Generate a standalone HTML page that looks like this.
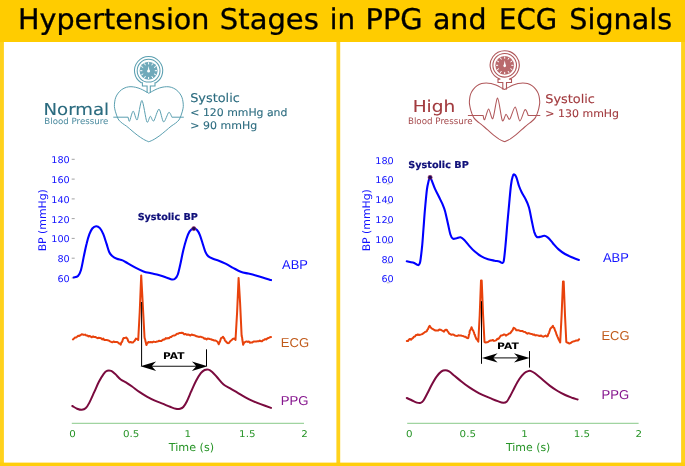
<!DOCTYPE html>
<html><head><meta charset="utf-8"><title>Hypertension Stages in PPG and ECG Signals</title>
<style>
html,body{margin:0;padding:0;background:#ffcc00;}
body{width:685px;height:466px;overflow:hidden;}
svg{display:block;}
text{font-family:"DejaVu Sans","Liberation Sans",sans-serif;text-rendering:geometricPrecision;}
.dj{font-family:"DejaVu Sans","Liberation Sans",sans-serif;}
.ar{font-family:"Liberation Sans",sans-serif;}
.b{font-weight:bold;}
</style></head><body>
<svg width="685" height="466" viewBox="0 0 685 466">
<rect x="0" y="0" width="685" height="466" fill="#ffcc00"/>
<rect x="0" y="42" width="685" height="424" fill="#ffd21c"/>
<rect x="0" y="462.6" width="685" height="3.4" fill="#ffce0c"/>
<rect x="3.9" y="42" width="332.5" height="420.6" fill="#fff"/>
<rect x="340.2" y="42" width="340.9" height="420.6" fill="#fff"/>
<g id="iconL">
<path d="M141.20,82.70 A14.10,14.10 0 1 1 156.00,82.70 L155.0,82.7 L155.0,86.0 L150.3,86.0 L150.3,93.0 M141.20,82.70 L142.4,82.7 L142.4,86.0 L147.1,86.0 L147.1,93.0" fill="none" stroke="#5a9fb0" stroke-width="1.05" stroke-linejoin="miter"/>
<circle cx="148.6" cy="70.7" r="11.40" fill="none" stroke="#5a9fb0" stroke-width="1.05"/>
<circle cx="148.6" cy="70.7" r="9.05" fill="#6fa9ba"/>
<path d="M148.60,64.45 L148.60,62.25 M151.72,65.29 L152.82,63.38 M154.01,67.58 L155.92,66.47 M154.85,70.70 L157.05,70.70 M154.01,73.83 L155.92,74.92 M151.72,76.11 L152.82,78.02 M148.60,76.95 L148.60,79.15 M145.47,76.11 L144.38,78.02 M143.19,73.83 L141.28,74.93 M142.35,70.70 L140.15,70.70 M143.19,67.58 L141.28,66.47 M145.47,65.29 L144.38,63.38" stroke="#fff" stroke-width="1.0" fill="none"/>
<path d="M148.60,65.95 L149.60,71.00 L147.60,71.00 Z" fill="#fff"/>
<circle cx="148.6" cy="71.2" r="1.35" fill="#fff"/>
<path d="M148.8,93.3 C148.2,92.9 146.4,91.8 145.0,91.1 C143.6,90.3 142.0,89.4 140.4,88.8 C138.8,88.2 137.3,87.6 135.7,87.3 C134.1,87.0 132.6,86.7 131.0,86.7 C129.4,86.7 128.0,86.8 126.4,87.3 C124.9,87.8 123.1,88.6 121.7,89.6 C120.3,90.6 119.2,91.8 118.2,93.1 C117.2,94.4 116.4,95.7 115.8,97.2 C115.2,98.7 114.9,100.4 114.7,101.9 C114.5,103.5 114.3,105.0 114.4,106.5 C114.5,108.0 114.9,109.6 115.3,111.2 C115.7,112.8 116.2,114.4 116.8,115.9 C117.4,117.4 117.9,118.8 118.8,120.0 C119.7,121.2 121.0,122.2 122.3,123.3 C123.6,124.3 125.1,125.0 126.7,126.3 C128.3,127.5 130.2,129.3 132.0,130.8 C133.8,132.3 135.9,134.1 137.8,135.5 C139.7,136.9 141.7,138.2 143.5,139.3 C145.3,140.4 148.0,141.4 148.8,141.8 M148.8,93.3 C149.5,92.9 151.3,91.8 152.7,91.1 C154.1,90.3 155.7,89.4 157.3,88.8 C158.8,88.2 160.4,87.6 162.0,87.3 C163.6,87.0 165.1,86.7 166.7,86.7 C168.2,86.7 169.7,86.8 171.3,87.3 C172.8,87.8 174.6,88.6 176.0,89.6 C177.4,90.6 178.5,91.8 179.5,93.1 C180.5,94.4 181.3,95.7 181.9,97.2 C182.5,98.7 182.8,100.4 183.0,101.9 C183.2,103.5 183.4,105.0 183.3,106.5 C183.2,108.0 182.8,109.6 182.4,111.2 C182.0,112.8 181.5,114.4 180.9,115.9 C180.3,117.4 179.8,118.8 178.9,120.0 C178.0,121.2 176.7,122.2 175.4,123.3 C174.1,124.3 172.6,125.0 171.0,126.3 C169.4,127.5 167.5,129.3 165.7,130.8 C163.8,132.3 161.8,134.1 159.9,135.5 C158.0,136.9 156.0,138.2 154.2,139.3 C152.4,140.4 149.7,141.4 148.8,141.8" fill="none" stroke="#5a9fb0" stroke-width="1.0"/>
<path d="M113.3,117.2 L128.1,117.2 C128.3,117.8 128.8,122.1 129.5,121.2 C130.2,120.3 132.1,111.3 133.2,111.1 C134.3,110.9 136.0,121.3 137.2,119.8 C138.4,118.3 140.5,100.2 141.9,100.5 C143.3,100.8 145.7,119.7 146.9,121.9 C148.1,124.1 149.3,116.4 150.3,116.3 C151.3,116.2 152.5,122.0 153.7,121.0 C154.9,120.0 157.6,109.0 159.0,109.1 C160.4,109.2 162.2,121.4 163.6,121.9 C165.0,122.4 167.6,113.1 168.8,112.4 C170.0,111.7 171.5,116.5 171.9,117.2 L183.8,117.2" fill="none" stroke="#5a9fb0" stroke-width="1.0" stroke-linejoin="round"/>
</g>
<g id="iconR">
<path d="M500.40,79.20 A14.55,14.55 0 1 1 509.00,79.20 L511.5,79.2 L511.5,82.5 L506.5,82.5 L506.5,89.5 M500.40,79.20 L498.0,79.2 L498.0,82.5 L502.8,82.5 L502.8,89.5" fill="none" stroke="#b0575a" stroke-width="1.1" stroke-linejoin="miter"/>
<circle cx="504.7" cy="65.3" r="11.80" fill="none" stroke="#b0575a" stroke-width="1.1"/>
<circle cx="504.7" cy="65.3" r="9.40" fill="#b96a6d"/>
<path d="M504.70,58.70 L504.70,56.50 M508.00,59.58 L509.10,57.68 M510.42,62.00 L512.32,60.90 M511.30,65.30 L513.50,65.30 M510.42,68.60 L512.32,69.70 M508.00,71.02 L509.10,72.92 M504.70,71.90 L504.70,74.10 M501.40,71.02 L500.30,72.92 M498.98,68.60 L497.08,69.70 M498.10,65.30 L495.90,65.30 M498.98,62.00 L497.08,60.90 M501.40,59.58 L500.30,57.68" stroke="#fff" stroke-width="1.0" fill="none"/>
<path d="M504.70,60.20 L505.70,65.60 L503.70,65.60 Z" fill="#fff"/>
<circle cx="504.7" cy="65.8" r="1.35" fill="#fff"/>
<path d="M504.6,89.6 C503.9,89.3 502.1,88.2 500.6,87.4 C499.2,86.6 497.5,85.7 495.9,85.0 C494.3,84.4 492.7,83.9 491.1,83.5 C489.5,83.2 487.9,82.9 486.3,82.9 C484.8,82.9 483.2,83.0 481.6,83.5 C480.1,84.0 478.2,84.9 476.8,85.9 C475.5,86.8 474.3,88.1 473.3,89.4 C472.3,90.7 471.4,92.1 470.8,93.6 C470.2,95.1 469.9,96.8 469.7,98.4 C469.5,100.0 469.3,101.5 469.4,103.1 C469.5,104.7 469.9,106.5 470.3,108.3 C470.7,110.0 471.3,111.8 471.8,113.4 C472.4,115.0 473.0,116.5 473.9,117.9 C474.8,119.3 476.1,120.4 477.5,121.5 C478.8,122.7 480.3,123.4 481.9,124.8 C483.6,126.2 485.5,128.1 487.4,129.7 C489.2,131.4 491.3,133.3 493.3,134.9 C495.2,136.4 497.2,137.9 499.1,139.1 C501.0,140.2 503.6,141.3 504.6,141.8 M504.6,89.6 C505.2,89.3 507.0,88.2 508.5,87.4 C509.9,86.6 511.6,85.7 513.2,85.0 C514.8,84.4 516.4,83.9 518.0,83.5 C519.6,83.2 521.2,82.9 522.8,82.9 C524.3,82.9 525.9,83.0 527.5,83.5 C529.0,84.0 530.9,84.9 532.3,85.9 C533.6,86.8 534.8,88.1 535.8,89.4 C536.8,90.7 537.7,92.1 538.3,93.6 C538.9,95.1 539.2,96.8 539.4,98.4 C539.6,100.0 539.8,101.5 539.7,103.1 C539.6,104.7 539.2,106.5 538.8,108.3 C538.4,110.0 537.8,111.8 537.3,113.4 C536.7,115.0 536.1,116.5 535.2,117.9 C534.3,119.3 533.0,120.4 531.6,121.5 C530.3,122.7 528.8,123.4 527.2,124.8 C525.5,126.2 523.6,128.1 521.7,129.7 C519.9,131.4 517.8,133.3 515.8,134.9 C513.9,136.4 511.9,137.9 510.0,139.1 C508.1,140.2 505.5,141.3 504.6,141.8" fill="none" stroke="#b0575a" stroke-width="1.05"/>
<path d="M467.9,115.4 L483.1,115.4 C483.3,116.0 483.8,120.6 484.6,119.7 C485.4,118.8 487.5,109.1 488.6,108.9 C489.7,108.7 491.5,120.1 492.8,118.6 C494.1,117.1 496.3,97.7 497.6,98.0 C498.9,98.3 501.1,118.2 502.3,120.5 C503.5,122.8 505.0,114.5 506.0,114.3 C507.0,114.1 508.4,120.2 509.7,119.2 C511.0,118.2 513.8,106.6 515.2,106.9 C516.6,107.2 518.4,120.6 519.8,121.0 C521.2,121.4 523.8,110.4 525.0,109.6 C526.2,108.8 527.8,114.6 528.2,115.4 L540.3,115.4" fill="none" stroke="#b0575a" stroke-width="1.05" stroke-linejoin="round"/>
</g>
<path d="M71.7,159.3 h3" stroke="#8a8a8a" stroke-width="0.8"/>
<path d="M386.8,164.1 h2.8" stroke="#a0a0a8" stroke-width="0.8"/>
<path d="M71.7,179.1 h3" stroke="#8a8a8a" stroke-width="0.8"/>
<path d="M386.8,183.9 h2.8" stroke="#a0a0a8" stroke-width="0.8"/>
<path d="M71.7,198.9 h3" stroke="#8a8a8a" stroke-width="0.8"/>
<path d="M386.8,203.7 h2.8" stroke="#a0a0a8" stroke-width="0.8"/>
<path d="M71.7,218.6 h3" stroke="#8a8a8a" stroke-width="0.8"/>
<path d="M386.8,223.4 h2.8" stroke="#a0a0a8" stroke-width="0.8"/>
<path d="M71.7,238.4 h3" stroke="#8a8a8a" stroke-width="0.8"/>
<path d="M386.8,243.2 h2.8" stroke="#a0a0a8" stroke-width="0.8"/>
<path d="M71.7,258.2 h3" stroke="#8a8a8a" stroke-width="0.8"/>
<path d="M386.8,263.0 h2.8" stroke="#a0a0a8" stroke-width="0.8"/>
<path d="M71.7,278.0 h3" stroke="#8a8a8a" stroke-width="0.8"/>
<path d="M386.8,282.8 h2.8" stroke="#a0a0a8" stroke-width="0.8"/>
<path d="M73.7,277.4 C74.4,277.1 76.8,277.1 78.0,275.9 C79.2,274.7 80.0,273.4 80.9,270.2 C81.9,267.0 82.8,261.3 83.7,256.9 C84.7,252.5 85.6,247.5 86.6,243.7 C87.5,239.9 88.5,236.7 89.4,234.2 C90.4,231.7 91.2,229.8 92.3,228.5 C93.4,227.2 94.8,226.3 96.1,226.2 C97.4,226.1 98.7,226.8 99.9,228.1 C101.1,229.4 102.2,231.6 103.3,234.2 C104.4,236.8 105.5,240.7 106.5,243.7 C107.5,246.7 108.3,250.1 109.3,252.2 C110.2,254.2 110.9,254.9 112.2,256.0 C113.5,257.1 115.2,258.1 116.9,258.8 C118.6,259.5 120.7,259.6 122.6,260.4 C124.5,261.2 126.1,262.4 128.3,263.6 C130.5,264.9 133.4,266.6 135.9,267.9 C138.4,269.2 141.0,270.5 143.5,271.4 C146.0,272.3 148.6,272.7 151.1,273.3 C153.6,273.9 156.2,274.3 158.7,275.0 C161.2,275.7 164.1,276.6 166.3,277.4 C168.5,278.1 170.6,279.3 172.0,279.5 C173.4,279.7 174.0,279.6 175.0,278.8 C176.0,278.0 176.9,277.1 177.8,274.5 C178.7,271.9 179.6,267.6 180.5,263.5 C181.4,259.4 182.3,254.3 183.3,250.2 C184.3,246.1 185.4,242.2 186.4,239.0 C187.4,235.8 188.4,233.1 189.6,231.3 C190.8,229.6 192.6,228.7 193.8,228.5 C195.0,228.3 196.0,228.9 197.0,230.0 C198.0,231.1 199.0,232.8 199.9,235.1 C200.8,237.4 201.8,240.8 202.7,243.7 C203.6,246.5 204.6,250.1 205.5,252.2 C206.4,254.3 207.1,255.3 208.4,256.4 C209.7,257.5 211.4,258.1 213.1,258.8 C214.8,259.5 216.7,259.9 218.8,260.7 C220.9,261.5 223.1,262.4 225.5,263.6 C227.9,264.8 230.6,266.5 233.1,267.9 C235.6,269.2 238.2,270.8 240.7,271.7 C243.2,272.6 245.8,273.0 248.3,273.6 C250.8,274.2 253.3,274.8 255.8,275.5 C258.3,276.2 260.9,277.0 263.4,277.8 C265.9,278.6 269.7,279.7 271.0,280.1" fill="none" stroke="#0000ff" stroke-width="2.1" stroke-linecap="round" stroke-linejoin="round"/>
<path d="M72.9,339.4 L74.0,338.5 L75.0,337.6 L76.0,337.6 L77.1,336.7 L78.2,335.7 L79.4,335.9 L80.5,335.2 L81.7,334.3 L82.8,334.5 L83.9,334.9 L85.1,334.6 L86.2,335.5 L87.4,335.4 L88.5,336.4 L89.6,336.0 L90.8,336.6 L91.9,337.3 L93.1,336.4 L94.2,337.1 L95.3,336.9 L96.5,337.6 L97.6,338.2 L98.8,337.8 L99.9,337.9 L101.0,338.2 L102.1,339.4 L103.3,338.5 L104.4,340.1 L105.5,340.0 L106.6,340.1 L107.8,340.3 L108.9,340.6 L110.1,341.3 L111.2,341.9 L112.3,342.3 L113.5,341.5 L114.6,342.0 L115.8,342.1 L116.9,341.9 L117.9,342.4 L118.8,343.4 L119.8,343.4 L120.7,344.7 L121.2,343.0 L121.7,342.1 L122.2,341.7 L122.6,340.2 L123.1,338.9 L123.6,338.1 L125.0,337.9 L126.4,337.5 L127.0,338.4 L127.6,339.2 L128.1,340.9 L128.7,341.7 L129.3,342.4 L130.6,342.0 L131.8,342.5 L133.1,342.4 L133.8,341.5 L134.5,341.0 L135.2,339.9 L135.9,338.6 L137.1,339.0 L138.2,340.0 L139.7,312.4 L141.2,275.4 L142.7,303.0 L144.5,337.1 L144.8,338.9 L145.0,338.9 L145.3,340.4 L145.6,342.0 L145.9,342.3 L146.1,343.9 L146.4,345.1 L147.0,343.4 L147.7,343.2 L148.3,341.9 L149.6,342.3 L150.9,342.0 L152.3,342.4 L153.6,341.6 L154.9,341.9 L156.0,341.9 L157.1,341.5 L158.2,341.2 L159.2,340.8 L160.3,341.0 L161.4,340.9 L162.5,340.0 L163.6,339.5 L164.7,339.4 L165.8,338.1 L166.8,338.6 L167.9,338.1 L169.0,338.2 L170.1,337.1 L171.2,337.1 L172.4,335.9 L173.5,335.6 L174.7,335.5 L175.8,334.8 L177.0,333.7 L178.2,333.8 L179.3,332.9 L180.5,332.9 L181.7,332.7 L182.9,333.0 L184.2,334.4 L185.4,333.9 L186.6,334.8 L187.9,334.5 L189.1,334.8 L190.4,335.5 L191.7,334.5 L192.9,335.1 L194.2,335.2 L195.3,335.6 L196.5,336.3 L197.6,336.5 L198.8,336.9 L199.9,336.7 L201.0,336.8 L202.1,337.3 L203.3,337.6 L204.4,338.8 L205.5,338.6 L206.6,339.4 L207.7,338.5 L208.8,338.7 L209.8,339.0 L210.9,339.2 L212.0,339.8 L213.1,340.0 L214.4,340.6 L215.6,340.5 L216.9,341.3 L217.5,341.6 L218.2,343.2 L218.8,344.3 L219.2,343.1 L219.6,342.3 L219.9,341.8 L220.3,340.4 L220.7,339.2 L221.1,338.1 L222.1,337.6 L223.0,336.7 L223.6,338.0 L224.2,338.2 L224.9,340.4 L225.5,340.9 L226.4,342.1 L227.4,343.0 L228.3,343.2 L229.2,342.8 L230.0,341.4 L230.8,340.7 L231.7,340.0 L233.1,338.7 L234.4,338.6 L235.5,340.0 L237.1,312.4 L238.6,277.9 L240.1,303.0 L241.6,335.2 L241.8,336.6 L242.0,337.0 L242.2,338.2 L242.3,339.5 L242.5,340.7 L242.7,342.1 L242.9,342.9 L243.1,344.7 L243.9,343.1 L244.6,342.3 L245.4,341.9 L246.5,341.4 L247.7,341.9 L248.8,341.5 L250.0,342.8 L251.1,342.4 L252.4,342.4 L253.6,341.5 L254.9,341.5 L256.2,341.5 L257.4,341.3 L258.7,341.3 L259.8,340.5 L260.9,341.2 L262.0,341.2 L263.0,340.2 L264.1,339.9 L265.2,339.1 L266.3,339.4 L267.5,338.3 L268.6,338.0 L269.8,337.3 L271.0,337.1" fill="none" stroke="#e8420c" stroke-width="2.0" stroke-linecap="round" stroke-linejoin="round"/>
<path d="M72.3,406.0 C73.1,406.4 75.5,408.1 77.1,408.7 C78.7,409.3 80.4,409.9 81.8,409.8 C83.2,409.7 84.3,409.5 85.6,408.3 C86.9,407.1 88.0,405.3 89.4,402.6 C90.8,399.9 92.6,395.7 94.2,392.2 C95.8,388.7 97.3,384.9 98.9,381.8 C100.5,378.7 102.3,375.7 103.7,373.8 C105.1,371.9 106.2,371.2 107.4,370.7 C108.7,370.2 109.9,370.4 111.2,370.9 C112.5,371.4 113.4,372.4 115.0,373.8 C116.6,375.2 118.8,378.0 120.7,379.5 C122.6,381.0 124.5,381.5 126.4,382.7 C128.3,383.9 129.9,384.9 132.1,386.5 C134.3,388.1 137.2,390.5 139.7,392.2 C142.2,393.9 144.8,395.5 147.3,396.9 C149.8,398.3 152.4,399.6 154.9,400.7 C157.4,401.8 160.0,402.6 162.5,403.6 C165.0,404.6 167.9,406.0 170.1,406.8 C172.3,407.6 174.2,408.4 175.8,408.7 C177.5,409.0 178.8,409.0 180.0,408.7 C181.2,408.4 182.2,408.2 183.3,407.0 C184.4,405.8 185.5,404.1 186.8,401.5 C188.1,398.9 189.8,394.6 191.3,391.2 C192.9,387.8 194.5,383.8 196.1,380.8 C197.7,377.8 199.4,375.0 200.8,373.2 C202.2,371.4 203.3,370.6 204.6,370.0 C205.9,369.4 207.1,369.3 208.4,369.6 C209.7,369.9 210.8,370.7 212.2,371.9 C213.6,373.1 215.0,374.9 216.9,377.0 C218.8,379.1 221.4,382.7 223.6,384.6 C225.8,386.5 227.8,387.0 230.2,388.4 C232.6,389.8 235.3,391.3 237.8,392.8 C240.3,394.3 242.9,395.9 245.4,397.3 C247.9,398.7 250.5,400.0 253.0,401.1 C255.5,402.2 257.6,403.0 260.6,404.1 C263.6,405.2 269.3,407.3 271.0,407.9" fill="none" stroke="#7a0a3e" stroke-width="2.0" stroke-linecap="round" stroke-linejoin="round"/>
<path d="M406.8,261.3 C407.8,261.5 411.3,262.1 413.0,262.6 C414.7,263.1 415.9,264.1 416.8,264.5 C417.8,264.9 418.1,265.4 418.7,264.9 C419.3,264.4 419.6,264.6 420.2,261.7 C420.8,258.8 421.4,252.9 422.0,247.4 C422.6,241.9 423.0,234.9 423.5,228.5 C424.0,222.1 424.4,215.5 425.0,209.0 C425.6,202.5 426.3,194.5 426.9,189.7 C427.5,184.9 428.3,182.3 428.8,180.2 C429.3,178.1 429.6,177.2 430.1,177.3 C430.6,177.5 431.2,179.2 432.0,181.1 C432.8,183.0 433.8,186.2 434.9,188.7 C436.0,191.2 437.4,193.8 438.7,196.3 C439.9,198.8 441.3,201.5 442.4,203.9 C443.4,206.3 444.1,207.7 445.0,211.0 C445.9,214.3 447.0,219.6 447.9,223.5 C448.8,227.4 449.6,232.0 450.4,234.5 C451.2,237.0 451.8,238.1 452.9,238.7 C453.9,239.3 455.4,238.4 456.7,238.2 C458.0,238.0 459.2,237.0 460.5,237.3 C461.8,237.6 462.9,238.6 464.3,240.0 C465.7,241.4 467.3,243.7 469.0,245.6 C470.7,247.5 472.4,249.5 474.5,251.3 C476.6,253.1 479.1,255.1 481.4,256.4 C483.6,257.7 485.8,258.5 488.0,259.2 C490.2,259.9 492.7,260.3 494.6,260.7 C496.5,261.1 497.9,261.1 499.2,261.5 C500.5,261.9 501.4,263.1 502.2,263.0 C503.0,262.9 503.3,263.6 503.8,260.8 C504.3,258.1 504.8,252.6 505.4,246.5 C506.0,240.4 506.7,231.2 507.3,224.0 C507.9,216.8 508.6,209.9 509.2,203.4 C509.8,196.9 510.4,189.6 511.0,185.0 C511.6,180.4 512.2,177.8 512.8,176.0 C513.3,174.2 513.7,174.3 514.3,174.5 C514.9,174.7 515.6,175.4 516.4,177.3 C517.2,179.2 518.1,183.5 519.0,186.0 C519.9,188.5 520.8,190.4 521.8,192.5 C522.8,194.6 524.1,196.2 525.3,198.6 C526.5,201.0 527.8,203.5 528.9,207.2 C530.0,210.8 530.8,216.4 531.7,220.5 C532.6,224.6 533.4,229.1 534.2,231.8 C535.1,234.5 535.8,236.1 536.8,236.9 C537.8,237.8 538.7,237.1 540.0,236.9 C541.3,236.7 543.1,235.6 544.5,235.8 C545.9,236.0 546.9,236.7 548.3,237.9 C549.7,239.1 551.2,241.3 552.9,243.2 C554.6,245.1 556.6,247.6 558.6,249.4 C560.6,251.2 562.8,252.7 565.0,254.0 C567.2,255.3 569.6,256.3 571.9,257.3 C574.2,258.3 577.7,259.6 578.9,260.0" fill="none" stroke="#0000ff" stroke-width="2.1" stroke-linecap="round" stroke-linejoin="round"/>
<path d="M406.8,341.1 L407.9,341.1 L408.9,339.6 L410.0,338.9 L411.0,339.7 L412.1,338.6 L413.1,337.9 L414.0,336.7 L415.0,336.6 L415.9,335.1 L416.9,335.1 L417.8,334.4 L419.0,335.0 L420.1,334.7 L421.3,334.4 L422.5,334.0 L423.4,333.1 L424.4,332.6 L425.4,331.7 L426.3,331.6 L426.9,331.0 L427.4,329.7 L428.0,329.1 L428.6,327.6 L429.1,326.5 L429.7,325.9 L430.5,327.1 L431.4,328.2 L432.2,328.8 L433.0,329.1 L434.3,330.0 L435.5,330.5 L436.8,330.6 L438.0,330.6 L439.3,329.6 L440.5,329.7 L441.7,330.4 L442.8,330.8 L444.0,331.6 L445.1,330.0 L446.2,329.7 L446.9,330.0 L447.6,331.3 L448.4,332.2 L449.1,333.5 L450.3,334.1 L451.5,334.8 L452.6,334.4 L453.8,334.8 L454.9,335.6 L456.1,335.8 L457.2,335.9 L458.4,335.3 L459.5,335.6 L460.7,335.5 L461.9,335.8 L463.1,336.0 L464.3,336.7 L465.6,336.8 L466.8,337.9 L468.1,338.2 L468.4,337.7 L468.6,336.5 L468.9,334.9 L469.2,334.1 L469.5,333.2 L469.7,331.1 L470.0,330.6 L470.5,329.7 L471.0,328.9 L471.5,327.2 L472.1,328.7 L472.6,329.8 L473.2,330.6 L473.6,331.7 L474.0,332.4 L474.4,334.4 L474.9,334.8 L475.3,336.6 L475.7,337.3 L476.4,339.0 L477.0,339.3 L477.6,340.4 L478.3,341.6 L479.7,315.4 L481.0,280.6 L481.7,280.6 L483.1,315.4 L484.5,342.0 L485.7,342.6 L486.8,342.3 L488.0,342.0 L489.3,341.0 L490.5,340.5 L491.8,340.5 L493.0,339.9 L494.1,340.9 L495.3,340.6 L496.5,340.1 L497.3,338.8 L498.1,339.0 L498.9,338.4 L499.7,337.2 L500.5,336.0 L501.3,335.4 L502.4,335.3 L503.6,334.6 L504.7,334.4 L505.9,335.6 L507.0,334.8 L508.1,334.3 L509.1,333.4 L510.1,333.3 L511.2,332.0 L511.8,330.9 L512.4,330.4 L513.0,329.3 L513.6,327.8 L514.5,328.2 L515.5,329.1 L516.4,330.3 L517.6,330.2 L518.9,330.3 L520.1,330.9 L521.4,331.0 L522.6,331.1 L523.8,331.8 L525.1,331.9 L526.3,332.9 L527.4,333.7 L528.6,333.1 L529.7,333.5 L530.9,333.9 L532.0,334.0 L533.1,334.8 L534.3,334.4 L535.4,335.4 L536.6,335.1 L537.7,335.4 L538.8,335.7 L540.0,336.0 L541.1,335.5 L542.3,336.4 L543.4,336.7 L544.5,336.1 L545.6,335.6 L546.7,336.5 L547.8,335.9 L548.2,334.2 L548.7,333.5 L549.1,332.6 L549.5,331.2 L550.0,329.7 L550.4,328.7 L551.2,327.8 L552.1,326.9 L552.9,325.9 L553.5,327.6 L554.2,327.9 L554.8,329.7 L555.2,330.9 L555.6,331.5 L556.0,332.7 L556.5,334.5 L556.9,335.2 L557.3,336.3 L557.8,337.4 L558.3,338.7 L558.8,339.9 L559.2,340.3 L559.7,341.5 L560.2,342.4 L561.6,315.4 L563.0,281.5 L563.7,281.5 L565.0,315.4 L566.3,342.0 L567.3,342.5 L568.4,343.0 L569.4,343.5 L570.5,343.1 L571.7,342.2 L572.8,341.6 L574.1,341.3 L575.3,340.8 L576.6,340.5 L577.9,340.5 L579.1,339.2" fill="none" stroke="#e8420c" stroke-width="2.0" stroke-linecap="round" stroke-linejoin="round"/>
<path d="M406.8,398.0 C407.7,398.4 410.4,399.7 412.1,400.5 C413.8,401.3 415.4,402.2 416.8,402.6 C418.2,403.0 419.5,403.2 420.6,402.9 C421.7,402.5 422.4,402.1 423.5,400.5 C424.6,398.9 425.9,396.2 427.3,393.5 C428.7,390.8 430.4,387.2 432.0,384.3 C433.6,381.4 435.2,378.5 436.8,376.4 C438.4,374.2 440.1,372.4 441.5,371.4 C442.9,370.4 444.0,370.3 445.3,370.3 C446.6,370.3 447.7,370.6 449.1,371.4 C450.5,372.2 451.8,373.5 453.8,375.2 C455.9,376.9 458.9,379.5 461.4,381.5 C463.9,383.5 466.5,385.5 469.0,387.2 C471.5,388.9 474.1,390.5 476.6,391.9 C479.1,393.3 481.7,394.5 484.2,395.7 C486.7,396.9 489.4,397.9 491.8,398.8 C494.2,399.8 496.5,400.7 498.4,401.4 C500.3,402.1 501.8,402.7 503.2,402.8 C504.6,402.9 505.5,402.8 506.6,401.8 C507.7,400.8 508.4,399.1 509.8,396.7 C511.2,394.3 513.1,390.2 514.7,387.2 C516.3,384.2 517.9,381.2 519.5,378.8 C521.1,376.4 523.0,374.3 524.5,373.0 C526.0,371.7 527.1,371.4 528.2,371.1 C529.3,370.8 530.0,370.7 531.1,371.1 C532.2,371.5 533.0,371.9 534.9,373.3 C536.8,374.7 539.9,377.5 542.4,379.6 C544.9,381.7 547.5,384.0 550.0,385.9 C552.5,387.8 555.1,389.5 557.6,391.0 C560.1,392.5 562.7,393.8 565.2,395.0 C567.7,396.2 570.7,397.2 572.8,398.0 C574.9,398.8 576.8,399.2 577.6,399.5" fill="none" stroke="#7a0a3e" stroke-width="2.0" stroke-linecap="round" stroke-linejoin="round"/>
<circle cx="193.8" cy="228.6" r="2.1" fill="#1a0a5a" stroke="#a03060" stroke-width="0.6"/>
<circle cx="430.1" cy="177.4" r="2.1" fill="#1a0a5a" stroke="#a03060" stroke-width="0.6"/>
<path d="M141.6,302 V366.2 M206.5,349.3 V366.2" stroke="#000" stroke-width="1" fill="none"/>
<path d="M151.3,366.2 L196.7,366.2" stroke="#111" stroke-width="1.05" fill="none"/><path d="M140.5,366.2 L156.1,361.5 Q152.7,364.8 151.8,366.2 Q152.7,367.6 156.1,370.9 Z M207.5,366.2 L191.9,361.5 Q195.3,364.8 196.2,366.2 Q195.3,367.6 191.9,370.9 Z" fill="#000"/>
<path d="M481.5,301.2 V363.8 M529.5,351.1 V367.6" stroke="#000" stroke-width="1" fill="none"/>
<path d="M492.8,357.9 L518.8,357.9" stroke="#111" stroke-width="1.05" fill="none"/><path d="M482.0,357.9 L497.6,353.2 Q494.2,356.5 493.3,357.9 Q494.2,359.3 497.6,362.6 Z M529.6,357.9 L514.0,353.2 Q517.4,356.5 518.3,357.9 Q517.4,359.3 514.0,362.6 Z" fill="#000"/>
<path d="M71.8,423.3 H304" stroke="#7cc47c" stroke-width="0.9"/>
<path d="M407.2,423.3 H638.6" stroke="#7cc47c" stroke-width="0.9"/>
<text class="dj" transform="translate(17.99,29.40) scale(1.0043,1)" font-size="28.5" fill="#000" stroke="#000" stroke-width="0.3" stroke-linejoin="round">Hypertension</text>
<text class="dj" transform="translate(219.84,29.40) scale(1.0184,1)" font-size="28.5" fill="#000" stroke="#000" stroke-width="0.3" stroke-linejoin="round">Stages</text>
<text class="dj" transform="translate(329.70,29.40) scale(0.9725,1)" font-size="28.5" fill="#000" stroke="#000" stroke-width="0.3" stroke-linejoin="round">in</text>
<text class="dj" transform="translate(365.57,29.40) scale(1.0122,1)" font-size="28.5" fill="#000" stroke="#000" stroke-width="0.3" stroke-linejoin="round">PPG</text>
<text class="dj" transform="translate(432.90,29.40) scale(0.9990,1)" font-size="28.5" fill="#000" stroke="#000" stroke-width="0.3" stroke-linejoin="round">and</text>
<text class="dj" transform="translate(499.09,29.40) scale(0.9677,1)" font-size="28.5" fill="#000" stroke="#000" stroke-width="0.3" stroke-linejoin="round">ECG</text>
<text class="dj" transform="translate(569.37,29.40) scale(1.0028,1)" font-size="28.5" fill="#000" stroke="#000" stroke-width="0.3" stroke-linejoin="round">Signals</text>
<text class="dj" transform="translate(43.50,115.00) scale(1.1065,1)" font-size="16.4" fill="#2b6b7f" stroke="#2b6b7f" stroke-width="0.12" stroke-linejoin="round">Normal</text>
<text class="dj" transform="translate(44.31,123.80) scale(1.0174,1)" font-size="8.5" fill="#4a8a9e">Blood Pressure</text>
<text class="dj" transform="translate(190.20,101.70) scale(1.0637,1)" font-size="12.1" fill="#2b6b7f" stroke="#2b6b7f" stroke-width="0.1" stroke-linejoin="round">Systolic</text>
<text class="dj" transform="translate(190.33,115.60) scale(1.0372,1)" font-size="10.5" fill="#2b6b7f" stroke="#2b6b7f" stroke-width="0.1" stroke-linejoin="round">&lt; 120 mmHg and</text>
<text class="dj" transform="translate(190.32,129.00) scale(1.0462,1)" font-size="10.5" fill="#2b6b7f" stroke="#2b6b7f" stroke-width="0.1" stroke-linejoin="round">&gt; 90 mmHg</text>
<text class="dj" transform="translate(412.66,111.90) scale(1.1321,1)" font-size="16.4" fill="#a23b3f" stroke="#a23b3f" stroke-width="0.12" stroke-linejoin="round">High</text>
<text class="dj" transform="translate(407.93,123.60) scale(0.9910,1)" font-size="8.8" fill="#a64b4e">Blood Pressure</text>
<text class="dj" transform="translate(545.20,102.80) scale(1.0659,1)" font-size="12.1" fill="#a23b3f" stroke="#a23b3f" stroke-width="0.1" stroke-linejoin="round">Systolic</text>
<text class="dj" transform="translate(545.32,117.10) scale(1.0453,1)" font-size="10.5" fill="#a23b3f" stroke="#a23b3f" stroke-width="0.1" stroke-linejoin="round">&gt; 130 mmHg</text>
<text class="dj" transform="translate(51.26,163.20) scale(1.0419,1)" font-size="9.3" fill="#1414ff">180</text>
<text class="dj" transform="translate(375.26,163.70) scale(1.0419,1)" font-size="9.3" fill="#1414ff">180</text>
<text class="dj" transform="translate(51.26,182.98) scale(1.0419,1)" font-size="9.3" fill="#1414ff">160</text>
<text class="dj" transform="translate(375.26,183.48) scale(1.0419,1)" font-size="9.3" fill="#1414ff">160</text>
<text class="dj" transform="translate(51.26,202.76) scale(1.0419,1)" font-size="9.3" fill="#1414ff">140</text>
<text class="dj" transform="translate(375.26,203.26) scale(1.0419,1)" font-size="9.3" fill="#1414ff">140</text>
<text class="dj" transform="translate(51.26,222.54) scale(1.0419,1)" font-size="9.3" fill="#1414ff">120</text>
<text class="dj" transform="translate(375.26,223.04) scale(1.0419,1)" font-size="9.3" fill="#1414ff">120</text>
<text class="dj" transform="translate(51.26,242.32) scale(1.0419,1)" font-size="9.3" fill="#1414ff">100</text>
<text class="dj" transform="translate(375.26,242.82) scale(1.0419,1)" font-size="9.3" fill="#1414ff">100</text>
<text class="dj" transform="translate(57.38,262.10) scale(1.0419,1)" font-size="9.3" fill="#1414ff">80</text>
<text class="dj" transform="translate(381.38,262.60) scale(1.0419,1)" font-size="9.3" fill="#1414ff">80</text>
<text class="dj" transform="translate(57.38,281.88) scale(1.0419,1)" font-size="9.3" fill="#1414ff">60</text>
<text class="dj" transform="translate(381.38,282.38) scale(1.0419,1)" font-size="9.3" fill="#1414ff">60</text>
<text class="dj" transform="translate(45.60,251.33) rotate(-90) scale(1.0335,1)" font-size="10.5" fill="#1414ff">BP (mmHg)</text>
<text class="dj" transform="translate(369.60,251.33) rotate(-90) scale(1.0335,1)" font-size="10.5" fill="#1414ff">BP (mmHg)</text>
<text class="dj b" transform="translate(137.67,219.60) scale(1.0124,1)" font-size="9.5" fill="#10107a" stroke="#10107a" stroke-width="0.2" stroke-linejoin="round">Systolic BP</text>
<text class="dj b" transform="translate(408.26,167.60) scale(1.0176,1)" font-size="9.5" fill="#10107a" stroke="#10107a" stroke-width="0.2" stroke-linejoin="round">Systolic BP</text>
<text class="dj b" transform="translate(163.01,358.60) scale(1.1357,1)" font-size="9.3" fill="#000">PAT</text>
<text class="dj b" transform="translate(497.06,349.00) scale(1.1942,1)" font-size="9.0" fill="#000">PAT</text>
<text class="ar" transform="translate(282.10,268.80) scale(0.9990,1)" font-size="12.9" fill="#1414ff">ABP</text>
<text class="ar" transform="translate(280.79,346.50) scale(1.0115,1)" font-size="12.9" fill="#c05a1a">ECG</text>
<text class="ar" transform="translate(280.78,405.10) scale(1.0178,1)" font-size="12.9" fill="#86168e">PPG</text>
<text class="ar" transform="translate(603.00,261.90) scale(0.9990,1)" font-size="12.9" fill="#1414ff">ABP</text>
<text class="ar" transform="translate(601.50,340.40) scale(1.0000,1)" font-size="12.9" fill="#c05a1a">ECG</text>
<text class="ar" transform="translate(601.49,398.60) scale(1.0139,1)" font-size="12.9" fill="#86168e">PPG</text>
<text class="dj" transform="translate(69.15,437.10) scale(1.1065,1)" font-size="9.3" fill="#279427">0</text>
<text class="dj" transform="translate(123.01,437.10) scale(1.1065,1)" font-size="9.3" fill="#279427">0.5</text>
<text class="dj" transform="translate(184.58,437.10) scale(1.1065,1)" font-size="9.3" fill="#279427">1</text>
<text class="dj" transform="translate(239.10,437.10) scale(1.1065,1)" font-size="9.3" fill="#279427">1.5</text>
<text class="dj" transform="translate(301.19,437.10) scale(1.1065,1)" font-size="9.3" fill="#279427">2</text>
<text class="dj" transform="translate(406.05,437.10) scale(1.1065,1)" font-size="9.3" fill="#279427">0</text>
<text class="dj" transform="translate(459.61,437.10) scale(1.1065,1)" font-size="9.3" fill="#279427">0.5</text>
<text class="dj" transform="translate(521.18,437.10) scale(1.1065,1)" font-size="9.3" fill="#279427">1</text>
<text class="dj" transform="translate(573.70,437.10) scale(1.1065,1)" font-size="9.3" fill="#279427">1.5</text>
<text class="dj" transform="translate(635.39,437.10) scale(1.1065,1)" font-size="9.3" fill="#279427">2</text>
<text class="dj" transform="translate(168.70,451.10) scale(1.0149,1)" font-size="11" fill="#279427">Time (s)</text>
<text class="dj" transform="translate(505.90,451.10) scale(0.9943,1)" font-size="11" fill="#279427">Time (s)</text>
</svg></body></html>
